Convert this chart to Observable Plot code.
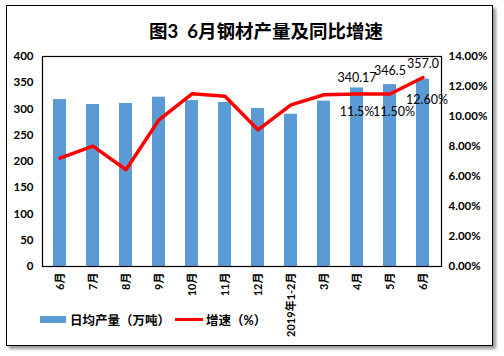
<!DOCTYPE html>
<html><head><meta charset="utf-8">
<script src="https://cdn.jsdelivr.net/npm/d3@7"></script>
<script src="https://cdn.jsdelivr.net/npm/@observablehq/plot@0.6"></script>
<style>
body{margin:0;background:#fff;font-family:Lato,"Noto Sans CJK SC",sans-serif;}
#wrap{position:relative;width:504px;height:356px;overflow:hidden;}
#frame{position:absolute;left:6px;top:5px;width:485px;height:339px;border:1.5px solid #000;box-shadow:3px 3px 3px #999;background:#fff;}
#title{position:absolute;left:0;width:532px;top:17px;text-align:center;font-size:18.5px;font-weight:bold;color:#000;font-family:Lato,"Noto Sans CJK SC",sans-serif;}
#chart{position:absolute;left:0;top:0;}
#legend{position:absolute;top:310px;left:40px;font-size:12.5px;font-weight:bold;display:flex;align-items:center;color:#000;}
.sw{display:inline-block;}
</style></head>
<body>
<div id="wrap">
<div id="frame"></div>
<div id="title">图3&nbsp;&nbsp;6月钢材产量及同比增速</div>
<div id="chart"></div>
<div id="legend">
<span class="sw" style="width:26px;height:7px;background:#5B9BD5;margin-right:4px"></span><span>日均产量（万吨）</span>
<span class="sw" style="width:28px;height:3px;background:#FF0000;margin:0 3px 0 5px"></span><span>增速（%）</span>
</div>
</div>
<script>
const categories = ["6月","7月","8月","9月","10月","11月","12月","2019年1-2月","3月","4月","5月","6月 "];
const output = [318, 308.6, 310.5, 322.5, 316, 312.4, 301, 290, 315, 340.17, 346.5, 357.0];
const growth = [7.22, 8.02, 6.45, 9.78, 11.51, 11.35, 9.11, 10.78, 11.45, 11.5, 11.5, 12.6];
const leftTicks = [0,50,100,150,200,250,300,350,400];
const rightTicks = [0,2,4,6,8,10,12,14];
const outLabels = [{i:9, t:"340.17", dy:-10}, {i:10, t:"346.5", dy:-14}, {i:11, t:"357.0", dy:-15}];
const pctLabels = [{i:9, t:"11.5%", dx:0, dy:18}, {i:10, t:"11.50%", dx:4, dy:18}, {i:11, t:"12.60%", dx:4, dy:22}];

const k = 400/14;
const rows = categories.map((c,i)=>({c, v:output[i], g:growth[i]*k}));
const font = 'Lato, "Noto Sans CJK SC", sans-serif';

const marks = [
  Plot.barY(rows, {x:"c", y:"v", fill:"#5B9BD5"}),
  Plot.line(rows, {x:"c", y:"g", stroke:"#FF0000", strokeWidth:3.5}),
  Plot.frame({stroke:"#000", strokeWidth:1.2}),
  Plot.axisY(leftTicks, {anchor:"left", tickSize:0, tickPadding:9, fontSize:11.5, fontWeight:"bold", label:null}),
  Plot.axisY(rightTicks.map(t=>t*k), {anchor:"right", tickSize:0, tickPadding:7, fontSize:11.5, fontWeight:"bold", label:null, tickFormat:d=>(d/k).toFixed(2)+"%"}),
  Plot.axisX({tickSize:0, tickPadding:6, tickRotate:-90, fontSize:11, fontWeight:"bold", label:null, tickFormat:d=>d.trim()}),
];
for (const l of outLabels) {
  marks.push(Plot.text([rows[l.i]], {x:"c", y:"v", text:()=>l.t, dy:l.dy, fontSize:12.5, fill:"#000"}));
}
for (const l of pctLabels) {
  marks.push(Plot.text([rows[l.i]], {x:"c", y:"g", text:()=>l.t, dx:l.dx, dy:l.dy, fontSize:12.5, fill:"#000"}));
}

const chart = Plot.plot({
  width:504, height:356,
  marginTop:56, marginBottom:90, marginLeft:42, marginRight:63,
  style:{fontFamily:font, background:"transparent", color:"#000"},
  x:{domain:categories, paddingInner:0.6, paddingOuter:0.3, axis:null},
  y:{domain:[0,400], axis:null},
  marks
});
document.getElementById("chart").appendChild(chart);
</script>
</body></html>
